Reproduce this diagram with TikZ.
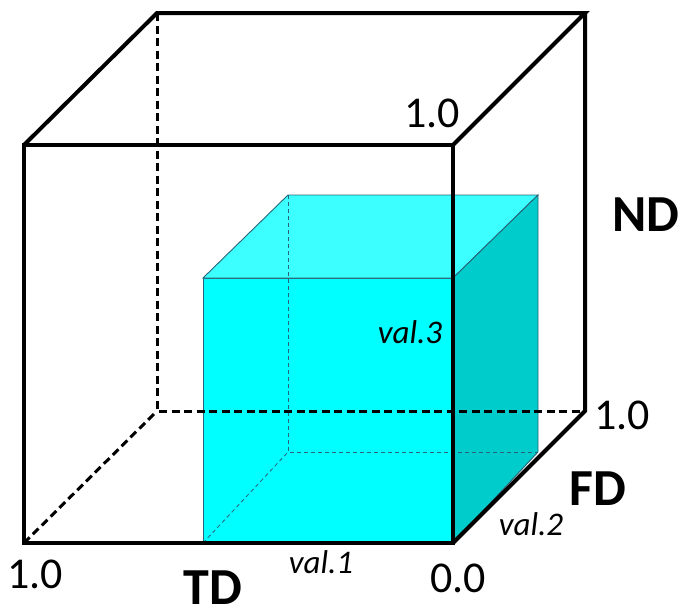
\documentclass[tikz,border=0pt]{standalone}
\usepackage{fontspec}
\setmainfont{Carlito}
\definecolor{cyanfront}{RGB}{0,255,255}
\definecolor{cyantop}{RGB}{60,255,255}
\definecolor{cyanside}{RGB}{0,204,204}
\definecolor{cyanedge}{RGB}{40,100,120}
\begin{document}
\begin{tikzpicture}[x=1pt,y=-1pt,
  thickedge/.style={line width=4pt,line join=miter},
  hiddenedge/.style={line width=3pt,dash pattern=on 8pt off 4.5pt},
  boxedge/.style={draw=cyanedge,line width=0.9pt,line join=miter},
  boxhidden/.style={draw=cyanedge,line width=0.8pt,dash pattern=on 4pt off 3pt},
  numlbl/.style={font=\fontsize{44}{50}\selectfont,inner sep=0pt,anchor=base},
  axislbl/.style={font=\fontsize{52}{60}\selectfont\bfseries,inner sep=0pt,anchor=base},
  vallbl/.style={font=\fontsize{33}{38}\selectfont\itshape,inner sep=0pt,anchor=base}]
\useasboundingbox (0,0) rectangle (685,613);
% outer cube corners
\coordinate (A) at (24,543);
\coordinate (B) at (453,543);
\coordinate (C) at (453,145);
\coordinate (D) at (24,145);
\coordinate (E) at (157,411);
\coordinate (F) at (585,411);
\coordinate (G) at (585,13);
\coordinate (H) at (157,13);
% cyan box corners
\coordinate (a) at (203,543);
\coordinate (b) at (453,543);
\coordinate (c) at (453,278);
\coordinate (d) at (203,278);
\coordinate (e) at (288,452);
\coordinate (f) at (538,452);
\coordinate (g) at (538,195);
\coordinate (h) at (288,195);
% cyan faces
\filldraw[boxedge,fill=cyanfront] (a) -- (b) -- (c) -- (d) -- cycle;
\filldraw[boxedge,fill=cyantop] (d) -- (c) -- (g) -- (h) -- cycle;
\filldraw[boxedge,fill=cyanside] (b) -- (f) -- (g) -- (c) -- cycle;
% cyan hidden edges
\draw[boxhidden] (h) -- (e) -- (f);
\draw[boxhidden] (a) -- (e);
% outer hidden edges
\draw[hiddenedge] (H) -- (E) -- (F);
\draw[hiddenedge] (A) -- (E);
% outer visible edges
\draw[thickedge] (A) -- (B) -- (C) -- (D) -- cycle;
\draw[thickedge] (D) -- (H) -- (G) -- (C);
\draw[thickedge] (G) -- (F) -- (B);
% labels
\node[numlbl] (t1) at (432,127) {1.0};
\node[axislbl] (nd) at (646,231) {ND};
\node[numlbl] (r1) at (622,429) {1.0};
\node[axislbl] (fd) at (598,505) {FD};
\node[vallbl] (v2) at (531,535) {val.2};
\node[vallbl] (v1) at (321,573) {val.1};
\node[numlbl] (z0) at (458,592) {0.0};
\node[numlbl] (l1) at (35,588) {1.0};
\node[axislbl] (td) at (213,604) {TD};
\node[vallbl] (v3) at (410,343) {val.3};
\end{tikzpicture}
\end{document}
